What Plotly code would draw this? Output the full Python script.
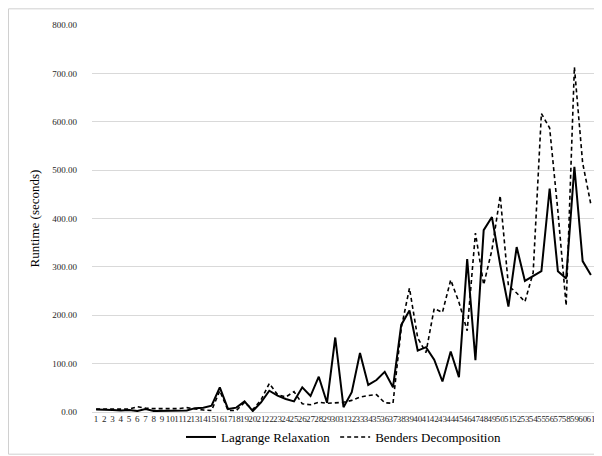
import plotly.graph_objects as go

# ── Data ────────────────────────────────────────────────────────
instances = list(range(1, 62))

lagrange = [
    5, 5, 4, 3, 4, 2, 6, 2, 2, 2,
    2, 3, 8, 9, 13, 51, 6, 9, 22, 2,
    20, 44, 34, 27, 22, 51, 33, 73, 19, 154,
    10, 41, 122, 56, 66, 83, 51, 180, 210, 127,
    134, 108, 63, 125, 72, 316, 107, 376, 403, 305,
    218, 341, 271, 281, 291, 462, 291, 276, 507, 312,
    283,
]

benders = [
    6, 6, 6, 6, 6, 11, 8, 7, 7, 7,
    7, 9, 6, 4, 3, 44, 3, 3, 20, 5,
    25, 59, 36, 31, 42, 17, 15, 20, 18, 19,
    20, 24, 31, 34, 36, 19, 18, 173, 256, 153,
    123, 214, 206, 273, 227, 168, 370, 263, 335, 447,
    261, 246, 228, 288, 617, 587, 415, 220, 713, 515,
    429,
]

FONT = "Liberation Serif"
W, H = 602, 456
L, R, T, B = 84, 15, 17, 44.5
pw, ph = W - L - R, H - T - B

fig = go.Figure()
fig.add_trace(go.Scatter(
    x=instances, y=lagrange, mode="lines", name="Lagrange Relaxation",
    line=dict(color="black", width=2),
))
fig.add_trace(go.Scatter(
    x=instances, y=benders, mode="lines", name="Benders Decomposition",
    line=dict(color="black", width=1.6, dash="4px,3px"),
))

fig.update_xaxes(
    range=[0.5, 61.5], tickmode="linear", tick0=1, dtick=1, tickangle=0,
    showgrid=False, zeroline=False, showline=False,
    tickfont=dict(family=FONT, size=9, color="#262626"),
)
fig.update_yaxes(
    range=[0, 800], dtick=100, tickformat=".2f",
    showgrid=True, gridcolor="#D9D9D9", gridwidth=1,
    zeroline=True, zerolinecolor="#D9D9D9", zerolinewidth=1,
    showline=False, ticklabelstandoff=14,
    tickfont=dict(family=FONT, size=9, color="#262626"),
    title=dict(text="Runtime (seconds)",
               font=dict(family=FONT, size=13, color="black"),
               standoff=9),
)

fig.update_layout(
    width=W, height=H,
    margin=dict(l=L, r=R, t=T, b=B),
    paper_bgcolor="white", plot_bgcolor="white",
    font=dict(family=FONT, color="black"),
    showlegend=True,
    legend=dict(
        orientation="h", x=0.5, xanchor="center",
        y=-(437 - (H - B)) / ph, yanchor="middle",
        font=dict(family=FONT, size=13, color="black"),
        bgcolor="rgba(0,0,0,0)",
    ),
    shapes=[dict(
        type="rect", xref="paper", yref="paper",
        x0=-(L - 0.5) / pw, x1=1 + (R - 1.5) / pw,
        y0=-(B - 1.5) / ph, y1=1 + (T - 0.5) / ph,
        line=dict(color="#D0D0D0", width=1), layer="below",
    )],
)

fig.write_html("out.html")
